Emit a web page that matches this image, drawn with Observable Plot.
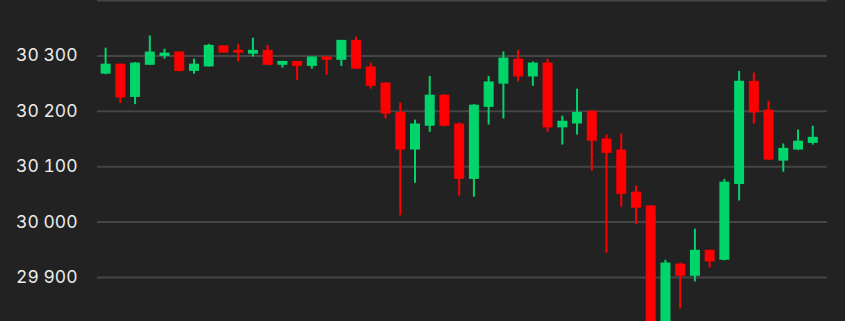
<!DOCTYPE html>
<html>
<head>
<meta charset="utf-8">
<script src="https://cdn.jsdelivr.net/npm/d3@7"></script>
<script src="https://cdn.jsdelivr.net/npm/@observablehq/plot@0.6"></script>
<style>
  html, body { margin: 0; padding: 0; background: #222222; }
  #wrap { width: 845px; height: 321px; overflow: hidden; background: #222222; }
</style>
</head>
<body>
<div id="wrap"></div>
<script>
const opens  = [30267,30285,30225,30283,30299,30307,30272,30280,30318,30310,30303,30310,30283,30290,30281,30298,30292,30328,30280,30251,30198,30130,30173,30229,30177,30077,30207,30249,30294,30262,30287,30170,30177,30200,30150,30130,30054,30029,29800,29924,29902,29949,29931,30068,30254,30202,30110,30130,30142];
const closes = [30285,30224,30287,30307,30305,30272,30285,30319,30305,30305,30310,30283,30290,30281,30298,30292,30328,30276,30245,30195,30130,30177,30229,30173,30077,30211,30253,30296,30262,30287,30170,30182,30198,30146,30124,30050,30025,29800,29926,29902,29949,29928,30072,30254,30197,30112,30133,30146,30153];
const highs  = [30314,30285,30288,30336,30312,30307,30294,30321,30318,30321,30332,30319,30290,30290,30298,30298,30328,30334,30287,30251,30215,30184,30263,30230,30179,30212,30263,30307,30310,30289,30294,30191,30240,30200,30157,30159,30065,30029,29931,29926,29987,29949,30077,30272,30269,30218,30141,30166,30173];
const lows   = [30266,30214,30212,30283,30294,30271,30267,30280,30305,30289,30298,30283,30278,30256,30276,30265,30281,30276,30240,30186,30011,30070,30162,30172,30047,30045,30175,30186,30253,30245,30162,30139,30157,30092,29944,30027,29996,29780,29780,29843,29892,29917,29930,30038,30177,30111,30090,30129,30139];
const tickValues = [29800, 29900, 30000, 30100, 30200, 30300];
const gridValues = [29800, 29900, 30000, 30100, 30200, 30300, 30400];

const candles = opens.map((o, i) => ({i, open: o, close: closes[i], high: highs[i], low: lows[i], up: closes[i] >= o}));
const fmt = d3.formatLocale({thousands: " ", grouping: [3], decimal: "."}).format(",");
const GREEN = "#00d46a", RED = "#ff0000";

const chart = Plot.plot({
  width: 845,
  height: 360,
  marginLeft: 97,
  marginRight: 18,
  marginTop: 0,
  marginBottom: 0,
  style: {background: "#222222", color: "#ececec", fontFamily: "Inter, 'Helvetica Neue', Arial, sans-serif", fontSize: "17.5px"},
  x: {type: "linear", domain: [-0.55, 49], axis: null},
  y: {domain: [29750, 30400], axis: null},
  marks: [
    Plot.ruleY(gridValues, {stroke: "#454545", strokeWidth: 2}),
    Plot.axisY({ticks: tickValues, tickSize: 0, tickPadding: 20, tickFormat: fmt, label: null, fill: "#ececec", fontSize: 17.5}),
    Plot.ruleX(candles, {x: "i", y1: "low", y2: "high", stroke: d => d.up ? GREEN : RED, strokeWidth: 2}),
    Plot.ruleX(candles, {x: "i", y1: "open", y2: "close", stroke: d => d.up ? GREEN : RED, strokeWidth: 10})
  ]
});
document.getElementById("wrap").appendChild(chart);
</script>
</body>
</html>
